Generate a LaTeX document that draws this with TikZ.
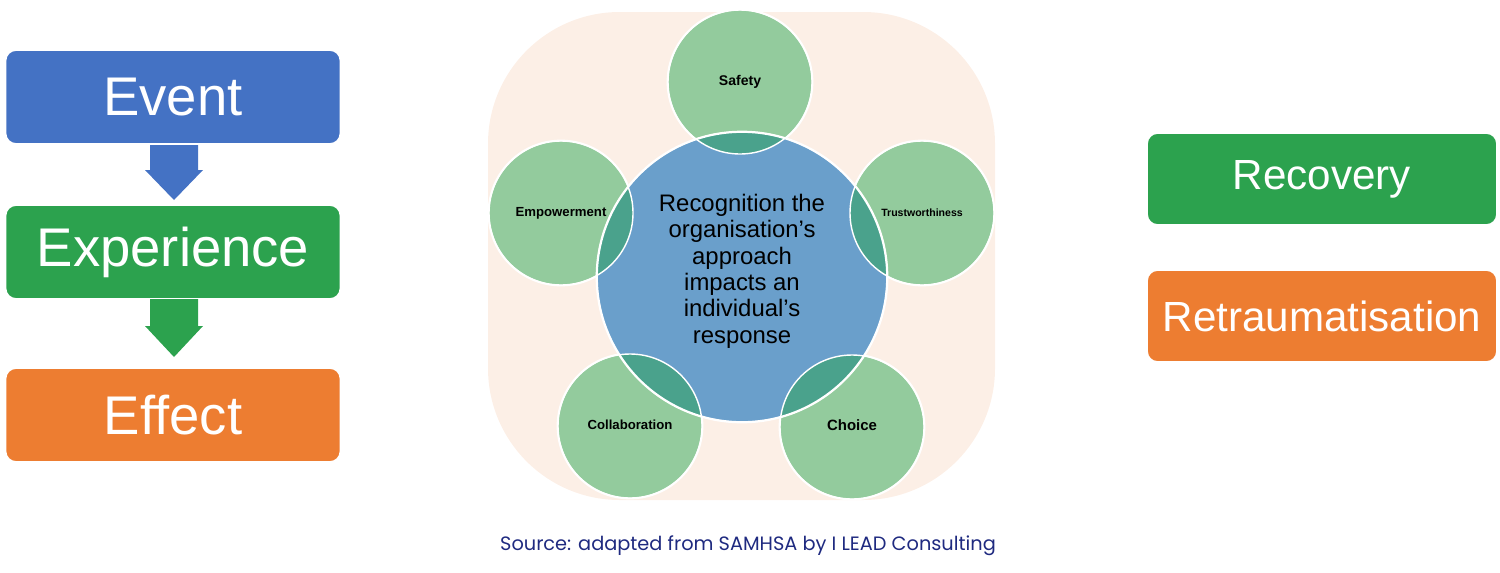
\documentclass[tikz,border=0pt]{standalone}
\usepackage{fontspec}
\setmainfont{Liberation Sans}
\newfontfamily\srcfont{Poppins}
\definecolor{cblue}{HTML}{4472C4}
\definecolor{cgreen}{HTML}{2CA24E}
\definecolor{corange}{HTML}{ED7D31}
\definecolor{cpeach}{HTML}{FCEFE6}
\definecolor{cbig}{HTML}{6A9FCB}
\definecolor{csmall}{HTML}{93CB9D}
\definecolor{cover}{HTML}{4AA28C}
\definecolor{cnavy}{HTML}{1F2A80}
\begin{document}
\begin{tikzpicture}[x=0.02cm,y=-0.02cm,
  bigbox/.style={draw=white,line width=1pt,rounded corners=6pt,text=white,minimum width=6.7cm,minimum height=1.88cm,font=\fontsize{31}{34}\selectfont},
  rbox/.style={draw=white,line width=1pt,rounded corners=6pt,text=white,minimum width=7cm,minimum height=1.84cm,font=\fontsize{24}{28}\selectfont},
  sc/.style={circle,draw=white,line width=1pt,fill=csmall,minimum size=2.9cm,font=\bfseries\fontsize{8}{10}\selectfont}]
\useasboundingbox (0,0) rectangle (1500,572);
% left
\node[bigbox,fill=cblue] (ev) at (173,97) {Event};
\node[bigbox,fill=cgreen] (ex) at (173,252) {Experience};
\node[bigbox,fill=corange] (ef) at (173,415) {Effect};
\fill[cblue] (150,145) -- (198,145) -- (198,170) -- (203,170) -- (174,200) -- (145,170) -- (150,170) -- cycle;
\fill[cgreen] (150,299) -- (198,299) -- (198,326) -- (203,326) -- (174,357) -- (145,326) -- (150,326) -- cycle;
% centre
\fill[cpeach] (488,12) [rounded corners=75pt] rectangle (995,500);
\node[sc] (sa) at (740,82) {};
\node[sc] (tr) at (922,213) {};
\node[sc] (ch) at (852,427) {};
\node[sc] (co) at (630,426) {};
\node[sc] (em) at (561,213) {};
\node[circle,draw=white,line width=1pt,fill=cbig,minimum size=5.82cm] (bg) at (742,277) {};
\begin{scope}
\clip (742,277) circle (145);
\foreach \p in {(740,82),(922,213),(852,427),(630,426),(561,213)}
  \fill[cover] \p circle (72);
\end{scope}
\foreach \p in {(740,82),(922,213),(852,427),(630,426),(561,213)}
  \draw[white,line width=0.8pt] \p circle (72);
\draw[white,line width=1pt] (742,277) circle (145);
\node[align=center,font=\fontsize{13.6}{15}\selectfont] (ct) at (742,271) {Recognition the\\organisation’s\\approach\\impacts an\\individual’s\\response};
\node[font=\bfseries\fontsize{8}{10}\selectfont] at (740,82) {Safety};
\node[font=\bfseries\fontsize{6}{8}\selectfont] at (922,213) {Trustworthiness};
\node[font=\bfseries\fontsize{8.5}{10}\selectfont] at (852,425) {Choice};
\node[font=\bfseries\fontsize{7.5}{10}\selectfont] at (630,425) {Collaboration};
\node[font=\bfseries\fontsize{7.5}{10}\selectfont] at (561,213) {Empowerment};
% right
\node[rbox,fill=cgreen] (re) at (1322,179) {Recovery};
\node[rbox,fill=corange] (rt) at (1322,316) {Retraumatisation};
\node[text=cnavy,font=\srcfont\fontsize{11}{13}\selectfont] (src) at (748,546) {Source: adapted from SAMHSA by I LEAD Consulting};
\end{tikzpicture}
\end{document}
